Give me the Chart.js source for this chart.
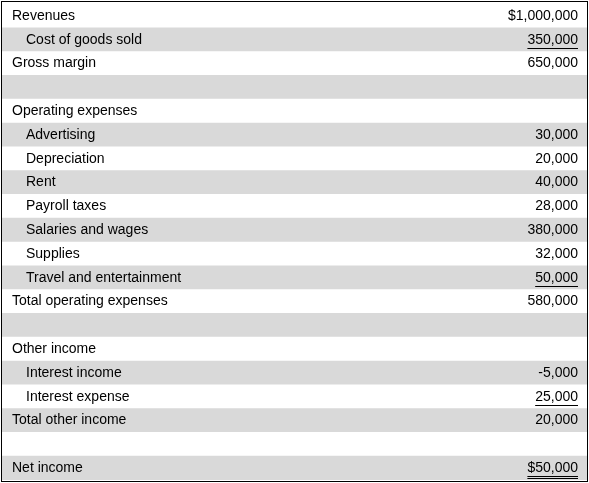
<!DOCTYPE html>
<html><head><meta charset="utf-8">
<script src="https://cdn.jsdelivr.net/npm/chart.js@4"></script>
<style>html,body{margin:0;padding:0;background:#fff}#w{width:589px;height:483px}</style>
</head><body><div id="w"><canvas id="c"></canvas></div>
<script>
const labels = ["Revenues","Cost of goods sold","Gross margin","","Operating expenses","Advertising","Depreciation","Rent","Payroll taxes","Salaries and wages","Supplies","Travel and entertainment","Total operating expenses","","Other income","Interest income","Interest expense","Total other income","","Net income"];
const values = [1000000,350000,650000,null,null,30000,20000,40000,28000,380000,32000,50000,580000,null,null,-5000,25000,20000,null,50000];
const indented = [0,1,0,0,0,1,1,1,1,1,1,1,0,0,0,1,1,0,0,0];
const underline = [0,1,0,0,0,0,0,0,0,0,0,1,0,0,0,0,1,0,0,2];
const dollar = [1,0,0,0,0,0,0,0,0,0,0,0,0,0,0,0,0,0,0,1];
const stripe = labels.map((_, i) => 1);
const colors = labels.map((_, i) => i % 2 ? '#d9d9d9' : '#ffffff');

const tablePlugin = {
  id: 'table',
  afterDatasetsDraw(chart) {
    const ctx = chart.ctx, y = chart.scales.y, a = chart.chartArea;
    ctx.save();
    ctx.font = '14px "Liberation Sans", Arial, sans-serif';
    ctx.fillStyle = '#000'; ctx.strokeStyle = '#000';
    ctx.textBaseline = 'middle';
    labels.forEach((l, i) => {
      const py = y.getPixelForValue(i);
      ctx.textAlign = 'left';
      ctx.fillText(l, indented[i] ? 26 : 12, py);
      if (values[i] !== null) {
        const t = (dollar[i] ? '$' : '') + values[i].toLocaleString('en-US');
        ctx.textAlign = 'right';
        ctx.fillText(t, 578, py);
        if (underline[i]) {
          const w = ctx.measureText(t).width;
          ctx.lineWidth = 1;
          ctx.beginPath();
          ctx.moveTo(578 - w, Math.round(py + 8) + 0.5); ctx.lineTo(578, Math.round(py + 8) + 0.5);
          if (underline[i] === 2) { ctx.moveTo(578 - w, Math.round(py + 10) + 0.5); ctx.lineTo(578, Math.round(py + 10) + 0.5); }
          ctx.stroke();
        }
      }
    });
    ctx.lineWidth = 1;
    ctx.strokeRect(1.5, 1.5, 586, 480);
    ctx.restore();
  }
};

new Chart(document.getElementById('c'), {
  type: 'bar',
  data: { labels, datasets: [{ data: stripe, backgroundColor: colors, barPercentage: 1, categoryPercentage: 1, borderWidth: 0 }] },
  options: {
    indexAxis: 'y', responsive: true, maintainAspectRatio: false, animation: false,
    layout: { padding: { left: 2, right: 2, top: 4, bottom: 3 } },
    plugins: { legend: { display: false }, tooltip: { enabled: false } },
    scales: {
      x: { display: false, min: 0, max: 1 },
      y: { display: false }
    }
  },
  plugins: [tablePlugin]
});
</script></body></html>
